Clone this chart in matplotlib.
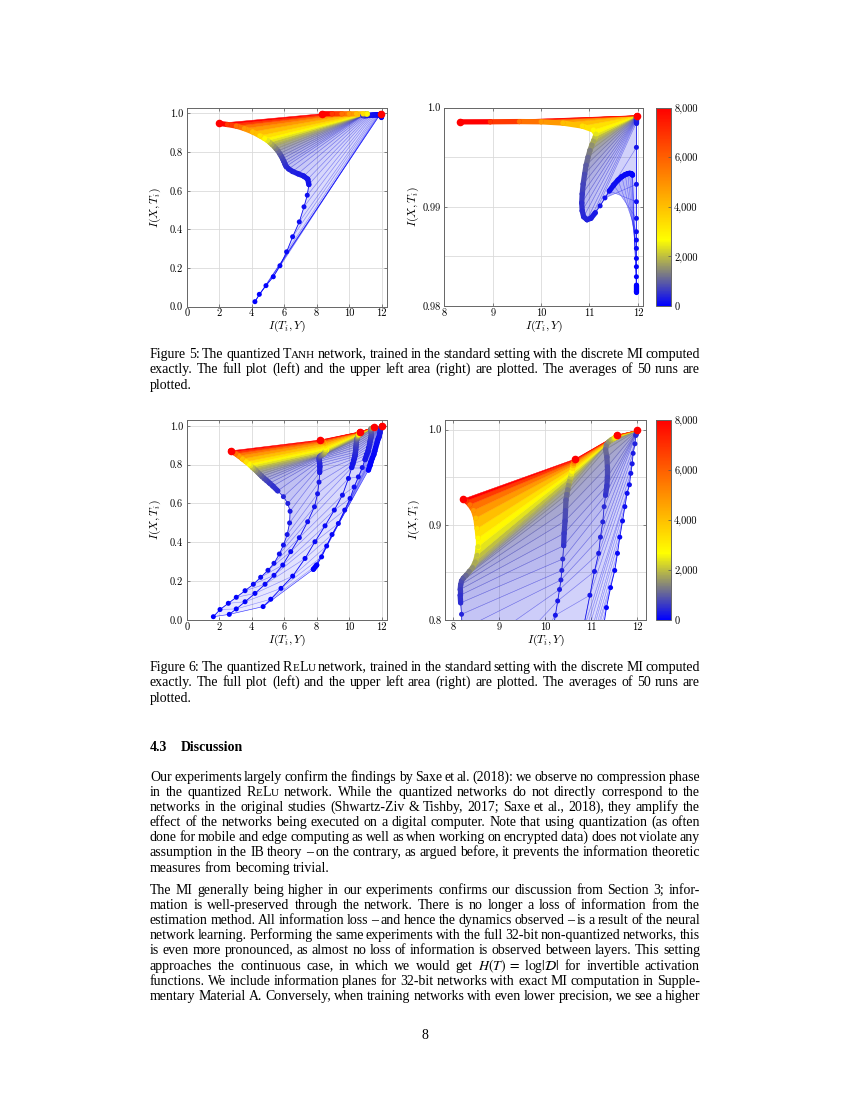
"""
Information-plane page: quantized tanh / ReLU networks (Fig. 5 and 6) plus text.
Output: out.png
"""

import math

import matplotlib
matplotlib.use("Agg")
import matplotlib.pyplot as plt
import numpy as np
from matplotlib.cm import ScalarMappable
from matplotlib.collections import LineCollection, PolyCollection
from matplotlib.colors import LinearSegmentedColormap, Normalize
from matplotlib.ticker import FixedLocator, FuncFormatter

# ── data ──────────────────────────────────────────────────────────────────────

EPOCHS = [0, 20, 40, 60, 80, 100, 120, 140, 160, 180, 200, 230, 260, 300, 350,
          400, 460, 530, 600, 700, 800, 950, 1100, 1300, 1500, 1750, 2000, 2400,
          2800, 3300, 4000, 4800, 5600, 6800, 8000]

# tanh network, layers in connection order (first hidden -> output)
TANH_L1_X = [11.97, 11.97, 11.97, 11.97, 11.97, 11.97, 11.97, 11.97, 11.97, 11.97, 11.97,
             11.97, 11.97, 11.97, 11.97, 11.97, 11.97, 11.97, 11.97, 11.97, 11.97, 11.97,
             11.97, 11.97, 11.97, 11.98, 11.98, 11.98, 11.98, 11.98, 11.98, 11.98, 11.98,
             11.98, 11.98]
TANH_L1_Y = [0.98144, 0.98211, 0.98295, 0.98396, 0.98480, 0.98581, 0.98665, 0.98749,
             0.98884, 0.99052, 0.99227, 0.99600, 0.99850, 0.99875, 0.99885, 0.99892,
             0.99897, 0.99900, 0.99903, 0.99905, 0.99907, 0.99909, 0.99910, 0.99911,
             0.99912, 0.99913, 0.99914, 0.99915, 0.99916, 0.99917, 0.99917, 0.99918,
             0.99918, 0.99919, 0.99920]
TANH_L2_X = [11.89, 11.88, 11.86, 11.83, 11.79, 11.74, 11.67, 11.59, 11.50, 11.41, 11.32,
             11.22, 11.12, 11.03, 10.95, 10.88, 10.85, 10.84, 10.85, 10.87, 10.90, 10.93,
             10.97, 11.01, 11.05, 11.09, 11.12, 11.13, 11.08, 10.85, 10.45, 10.00, 9.55,
             8.95, 8.33]
TANH_L2_Y = [0.99320, 0.99330, 0.99336, 0.99338, 0.99335, 0.99325, 0.99305, 0.99270,
             0.99220, 0.99160, 0.99090, 0.99010, 0.98940, 0.98885, 0.98870, 0.98900,
             0.98960, 0.99040, 0.99130, 0.99230, 0.99330, 0.99420, 0.99500, 0.99570,
             0.99625, 0.99670, 0.99705, 0.99735, 0.99775, 0.99815, 0.99845, 0.99858,
             0.99860, 0.99858, 0.99857]
TANH_L3_X = [4.20, 4.47, 4.88, 5.33, 5.74, 6.15, 6.52, 6.93, 7.22, 7.42, 7.52, 7.45, 7.20,
             6.85, 6.52, 6.28, 6.12, 6.05, 5.98, 5.90, 5.82, 5.72, 5.62, 5.50, 5.38, 5.25,
             5.12, 4.98, 4.80, 4.50, 4.05, 3.55, 3.05, 2.50, 2.00]
TANH_L3_Y = [0.026, 0.064, 0.109, 0.155, 0.212, 0.284, 0.362, 0.439, 0.517, 0.577, 0.632,
             0.660, 0.676, 0.688, 0.700, 0.713, 0.726, 0.738, 0.752, 0.766, 0.779, 0.793,
             0.806, 0.818, 0.830, 0.840, 0.850, 0.860, 0.870, 0.885, 0.905, 0.922, 0.935,
             0.943, 0.949]

# ReLU network, layers in connection order (first hidden -> output)
RELU_L1_X = [11.18, 11.28, 11.33, 11.42, 11.51, 11.57, 11.62, 11.68, 11.73, 11.78, 11.83,
             11.86, 11.89, 11.91, 11.95, 11.97, 11.99, 12.00, 12.00, 12.00, 12.00, 12.00,
             12.00, 12.00, 12.00, 12.00, 12.00, 12.00, 12.00, 12.00, 12.00, 12.00, 12.00,
             12.00, 12.00]
RELU_L1_Y = [0.772, 0.797, 0.813, 0.834, 0.852, 0.870, 0.887, 0.904, 0.919, 0.933, 0.942,
             0.954, 0.964, 0.975, 0.985, 0.994, 0.997, 0.999, 0.999, 0.999, 0.999, 0.999,
             0.999, 0.999, 0.999, 0.999, 0.999, 0.999, 0.999, 0.999, 0.999, 0.999, 0.999,
             0.999, 0.999]
RELU_L2_X = [7.79, 8.00, 8.30, 8.61, 8.94, 9.33, 9.72, 10.05, 10.30, 10.56, 10.80, 10.97,
             11.07, 11.16, 11.20, 11.25, 11.28, 11.31, 11.34, 11.35, 11.35, 11.34, 11.31,
             11.33, 11.38, 11.43, 11.47, 11.50, 11.52, 11.53, 11.54, 11.545, 11.55, 11.55,
             11.55]
RELU_L2_Y = [0.261, 0.283, 0.325, 0.381, 0.440, 0.497, 0.566, 0.626, 0.685, 0.737, 0.785,
             0.826, 0.851, 0.870, 0.887, 0.903, 0.919, 0.931, 0.941, 0.950, 0.961, 0.971,
             0.979, 0.984, 0.987, 0.989, 0.990, 0.991, 0.992, 0.992, 0.993, 0.9935, 0.994,
             0.994, 0.994]
RELU_L3_X = [4.70, 5.17, 5.80, 6.52, 7.28, 7.89, 8.51, 9.08, 9.58, 9.95, 10.15, 10.22,
             10.27, 10.31, 10.34, 10.36, 10.38, 10.40, 10.41, 10.43, 10.44, 10.45, 10.47,
             10.49, 10.51, 10.53, 10.55, 10.56, 10.58, 10.59, 10.60, 10.61, 10.62, 10.64,
             10.65]
RELU_L3_Y = [0.069, 0.107, 0.163, 0.226, 0.317, 0.403, 0.485, 0.566, 0.643, 0.729, 0.785,
             0.805, 0.820, 0.832, 0.842, 0.852, 0.864, 0.878, 0.891, 0.904, 0.915, 0.926,
             0.932, 0.937, 0.942, 0.946, 0.950, 0.953, 0.956, 0.959, 0.962, 0.964, 0.966,
             0.968, 0.969]
RELU_L4_X = [2.62, 3.05, 3.59, 4.20, 4.82, 5.37, 5.91, 6.40, 6.93, 7.44, 7.86, 8.05, 8.14,
             8.18, 8.19, 8.18, 8.16, 8.15, 8.15, 8.16, 8.18, 8.22, 8.28, 8.35, 8.42, 8.48,
             8.52, 8.54, 8.54, 8.52, 8.49, 8.44, 8.36, 8.28, 8.22]
RELU_L4_Y = [0.029, 0.057, 0.094, 0.137, 0.184, 0.230, 0.283, 0.352, 0.424, 0.506, 0.583,
             0.650, 0.710, 0.760, 0.790, 0.806, 0.818, 0.826, 0.832, 0.837, 0.841, 0.844,
             0.847, 0.851, 0.855, 0.861, 0.868, 0.877, 0.886, 0.896, 0.907, 0.915, 0.921,
             0.925, 0.927]
RELU_L5_X = [1.64, 2.05, 2.56, 3.05, 3.59, 4.10, 4.55, 5.00, 5.37, 5.70, 5.95, 6.18, 6.33,
             6.36, 6.22, 5.95, 5.60, 5.30, 5.10, 4.92, 4.78, 4.62, 4.50, 4.38, 4.26, 4.14,
             4.04, 3.94, 3.84, 3.65, 3.42, 3.20, 3.02, 2.84, 2.70]
RELU_L5_Y = [0.017, 0.054, 0.086, 0.117, 0.151, 0.184, 0.220, 0.256, 0.292, 0.340, 0.386,
             0.440, 0.500, 0.560, 0.600, 0.635, 0.665, 0.690, 0.705, 0.718, 0.728, 0.740,
             0.750, 0.760, 0.770, 0.779, 0.786, 0.795, 0.803, 0.815, 0.830, 0.845, 0.856,
             0.865, 0.871]

CBAR_TICKS = [0, 2000, 4000, 6000, 8000]
FULL_XTICKS = [0, 2, 4, 6, 8, 10, 12]
FULL_YTICKS = [0.0, 0.2, 0.4, 0.6, 0.8, 1.0]
FULL_YLABELS = ["0.0", "0.2", "0.4", "0.6", "0.8", "1.0"]
ZOOM_XTICKS = [8, 9, 10, 11, 12]
TANH_ZOOM_YTICKS = [0.98, 0.99, 1.0]
TANH_ZOOM_YLABELS = ["0.98", "0.99", "1.0"]
RELU_ZOOM_YTICKS = [0.8, 0.9, 1.0]
RELU_ZOOM_YLABELS = ["0.8", "0.9", "1.0"]

# ── page text ({...} = small caps) ────────────────────────────────────────────

CAPTION5 = [
    "Figure 5: The quantized T{ANH} network, trained in the standard setting with the discrete MI computed",
    "exactly. The full plot (left) and the upper left area (right) are plotted. The averages of 50 runs are",
    "plotted.",
]
CAPTION6 = [
    "Figure 6: The quantized R{E}L{U} network, trained in the standard setting with the discrete MI computed",
    "exactly. The full plot (left) and the upper left area (right) are plotted. The averages of 50 runs are",
    "plotted.",
]
PARA1 = [
    "Our experiments largely confirm the findings by Saxe et al. (2018): we observe no compression phase",
    "in the quantized R{E}L{U} network. While the quantized networks do not directly correspond to the",
    "networks in the original studies (Shwartz-Ziv & Tishby, 2017; Saxe et al., 2018), they amplify the",
    "effect of the networks being executed on a digital computer. Note that using quantization (as often",
    "done for mobile and edge computing as well as when working on encrypted data) does not violate any",
    "assumption in the IB theory \u2013 on the contrary, as argued before, it prevents the information theoretic",
    "measures from becoming trivial.",
]
PARA2 = [
    "The MI generally being higher in our experiments confirms our discussion from Section 3; infor-",
    "mation is well-preserved through the network. There is no longer a loss of information from the",
    "estimation method. All information loss \u2013 and hence the dynamics observed \u2013 is a result of the neural",
    "network learning. Performing the same experiments with the full 32-bit non-quantized networks, this",
    "is even more pronounced, as almost no loss of information is observed between layers. This setting",
    r"approaches the continuous case, in which we would get $H(T)\;=\;\log|\mathcal{D}|$ for invertible activation",
    "functions. We include information planes for 32-bit networks with exact MI computation in Supple-",
    "mentary Material A. Conversely, when training networks with even lower precision, we see a higher",
]

# ── style ─────────────────────────────────────────────────────────────────────

W, H = 850, 1100
SERIF = "Liberation Serif"
TICKFONT = "cmr10"
CMAP = LinearSegmentedColormap.from_list(
    "blue_yellow_red", [(0.0, (0, 0, 1)), (1 / 3, (1, 1, 0)), (1.0, (1, 0, 0))])
NORM = Normalize(0, 8000)


def box(left, top, right, bottom):
    return [left / W, 1 - bottom / H, (right - left) / W, (bottom - top) / H]


def band_alpha(epoch):
    return min(1.0, 0.07 + 0.93 * epoch / 1900)


def info_plane(fig, rect, layers, xlim, ylim, xticks, yticks, ylabels, yminor=None):
    ax = fig.add_axes(rect)
    ax.set_xlim(*xlim)
    ax.set_ylim(*ylim)
    ep = np.array(EPOCHS, dtype=float)
    cols = CMAP(NORM(ep))

    # epoch-wise connections between neighbouring layers
    for (xa, ya), (xb, yb) in zip(layers[:-1], layers[1:]):
        quads, fcs = [], []
        for k in range(len(ep) - 1):
            quads.append([(xa[k], ya[k]), (xb[k], yb[k]),
                          (xb[k + 1], yb[k + 1]), (xa[k + 1], ya[k + 1])])
            c = cols[k + 1].copy()
            c[3] = band_alpha(ep[k + 1])
            fcs.append(c)
        ax.add_collection(PolyCollection(quads, facecolors=fcs, edgecolors=fcs,
                                         linewidths=0.3, zorder=1))
        links = [[(xa[k], ya[k]), (xb[k], yb[k])] for k in range(len(ep))]
        lcols = cols.copy()
        lcols[:, 3] = 0.25
        lcols[0, 3] = 0.75
        ax.add_collection(LineCollection(links, colors=lcols, linewidths=0.45, zorder=2))

    # layer trajectories
    for x, y in layers:
        pts = np.column_stack([x, y])
        px = ax.transData.transform(pts)
        seglen = np.hypot(*np.diff(px, axis=0).T)
        lw = np.where((ep[1:] >= 600) | (seglen < 8), 3.8, 0.6)
        segs = np.stack([pts[:-1], pts[1:]], axis=1)
        ax.add_collection(LineCollection(segs, colors=cols[1:], linewidths=lw,
                                         capstyle="round", zorder=3))
        ax.scatter(x, y, c=ep, cmap=CMAP, norm=NORM, s=13, linewidths=0, zorder=4)
        ax.scatter(x[-1:], y[-1:], color=cols[-1:], s=30, linewidths=0, zorder=5)

    ax.xaxis.set_major_locator(FixedLocator(xticks))
    ax.yaxis.set_major_locator(FixedLocator(yticks))
    ax.set_xticklabels([str(t) for t in xticks])
    ax.set_yticklabels(ylabels)
    if yminor:
        ax.yaxis.set_minor_locator(FixedLocator(yminor))
    ax.set_axisbelow(True)
    ax.grid(True, which="both", color="#dadada", linewidth=0.6)
    ax.tick_params(which="major", direction="in", length=2.5, width=0.5, color="#555555",
                   top=True, right=True, labelsize=7.5)
    ax.tick_params(axis="x", pad=1.5)
    ax.tick_params(axis="y", pad=2.5)
    ax.tick_params(which="minor", length=0)
    for lab in ax.get_xticklabels() + ax.get_yticklabels():
        lab.set_fontfamily(TICKFONT)
    for sp in ax.spines.values():
        sp.set_color("#666666")
        sp.set_linewidth(0.7)

    wpx, hpx = rect[2] * W, rect[3] * H
    ax.text(0.5, -20 / hpx, r"$I(T_i, Y)$", transform=ax.transAxes, ha="center",
            va="center", fontsize=8.5, math_fontfamily="cm")
    ax.text(-31 / wpx, 0.5, r"$I(X, T_i)$", transform=ax.transAxes, ha="center",
            va="center", rotation=90, fontsize=8.5, math_fontfamily="cm")
    return ax


def colorbar(fig, rect):
    cax = fig.add_axes(rect)
    sm = ScalarMappable(norm=NORM, cmap=CMAP)
    cb = fig.colorbar(sm, cax=cax, ticks=CBAR_TICKS)
    cb.outline.set_edgecolor("#666666")
    cb.outline.set_linewidth(0.7)
    cax.yaxis.set_major_formatter(FuncFormatter(lambda v, _: f"{int(v):,}"))
    cax.tick_params(direction="in", length=2.5, width=0.5, color="#555555",
                    labelsize=7.5, pad=2.5)
    for lab in cax.get_yticklabels():
        lab.set_fontfamily(TICKFONT)


# ── text layout ───────────────────────────────────────────────────────────────

def runs(word):
    if word.startswith("$"):
        return [(word, False)]
    out, small, buf = [], False, ""
    for ch in word:
        if ch in "{}":
            if buf:
                out.append((buf, small))
                buf = ""
            small = ch == "{"
        else:
            buf += ch
    if buf:
        out.append((buf, small))
    return out


def baseline_shift(rend, s, prop):
    # agg places each word bitmap by rounding its own box; undo that so every
    # word of a line lands on the same pixel baseline
    _, h, d = rend.get_text_width_height_descent(s, prop, False)
    return math.floor(h + 1e-9) - math.floor(h - d + 1e-9) - d


def put_line(fig, rend, line, yc, justify, size=10, weight="normal", x0=150, x1=700):
    words = []
    for w in line.split(" "):
        parts, off = [], 0.0
        for s, small in runs(w):
            t = fig.text(0, 0, s, fontsize=size * 0.8 if small else size, family=SERIF,
                         weight=weight, va="baseline", ha="left", math_fontfamily="stix")
            shift = 0.0 if s.startswith("$") else baseline_shift(rend, s, t.get_fontproperties())
            parts.append((t, off, shift))
            off += t.get_window_extent(rend).width
        words.append((parts, off))
    total = sum(wd for _, wd in words)
    gap = (x1 - x0 - total) / (len(words) - 1) if justify and len(words) > 1 else 3.4
    x = x0
    base = round(yc + 3.5)
    for parts, wd in words:
        for t, off, shift in parts:
            t.set_position(((x + off) / W, 1 - (base + shift) / H))
        x += wd + gap


def put_block(fig, rend, lines, y0, step, last_justified=False):
    for i, line in enumerate(lines):
        last = i == len(lines) - 1
        put_line(fig, rend, line, y0 + i * step, justify=(not last) or last_justified)


# ── run ───────────────────────────────────────────────────────────────────────

def main():
    fig = plt.figure(figsize=(W / 100, H / 100), dpi=100)
    rend = fig.canvas.get_renderer()

    tanh = [(TANH_L1_X, TANH_L1_Y), (TANH_L2_X, TANH_L2_Y), (TANH_L3_X, TANH_L3_Y)]
    relu = [(RELU_L1_X, RELU_L1_Y), (RELU_L2_X, RELU_L2_Y), (RELU_L3_X, RELU_L3_Y),
            (RELU_L4_X, RELU_L4_Y), (RELU_L5_X, RELU_L5_Y)]

    # full planes show every layer, the close-ups only the layers inside the window
    info_plane(fig, box(186.7, 107.7, 386.7, 306.7), tanh, (0, 12.31), (0, 1.03),
               FULL_XTICKS, FULL_YTICKS, FULL_YLABELS)
    info_plane(fig, box(444.3, 107.7, 642.7, 306.0), tanh[:2], (8, 12.1), (0.98, 1.0),
               ZOOM_XTICKS, TANH_ZOOM_YTICKS, TANH_ZOOM_YLABELS, yminor=[0.985, 0.995])
    colorbar(fig, box(656, 107.7, 670.7, 306.0))

    info_plane(fig, box(186.7, 420, 387.3, 620), relu, (0, 12.34), (0, 1.03),
               FULL_XTICKS, FULL_YTICKS, FULL_YLABELS)
    info_plane(fig, box(445, 420, 646, 620), relu[:4], (7.82, 12.19), (0.8, 1.01),
               ZOOM_XTICKS, RELU_ZOOM_YTICKS, RELU_ZOOM_YLABELS, yminor=[0.85, 0.95])
    colorbar(fig, box(656, 420, 670.7, 620))

    put_block(fig, rend, CAPTION5, 354.5, 15.3)
    put_block(fig, rend, CAPTION6, 667.5, 15.3)

    fig.text(150 / W, 1 - 751 / H, "4.3", fontsize=10, family=SERIF, weight="bold",
             va="baseline")
    fig.text(180.7 / W, 1 - 751 / H, "Discussion", fontsize=10, family=SERIF,
             weight="bold", va="baseline")
    put_block(fig, rend, PARA1, 777.7, 15.05)
    put_block(fig, rend, PARA2, 890.0, 15.2, last_justified=True)
    fig.text(425 / W, 1 - 1039 / H, "8", fontsize=10, family=SERIF, ha="center",
             va="baseline")

    fig.savefig("out.png", dpi=100)
    plt.close(fig)


if __name__ == "__main__":
    main()
